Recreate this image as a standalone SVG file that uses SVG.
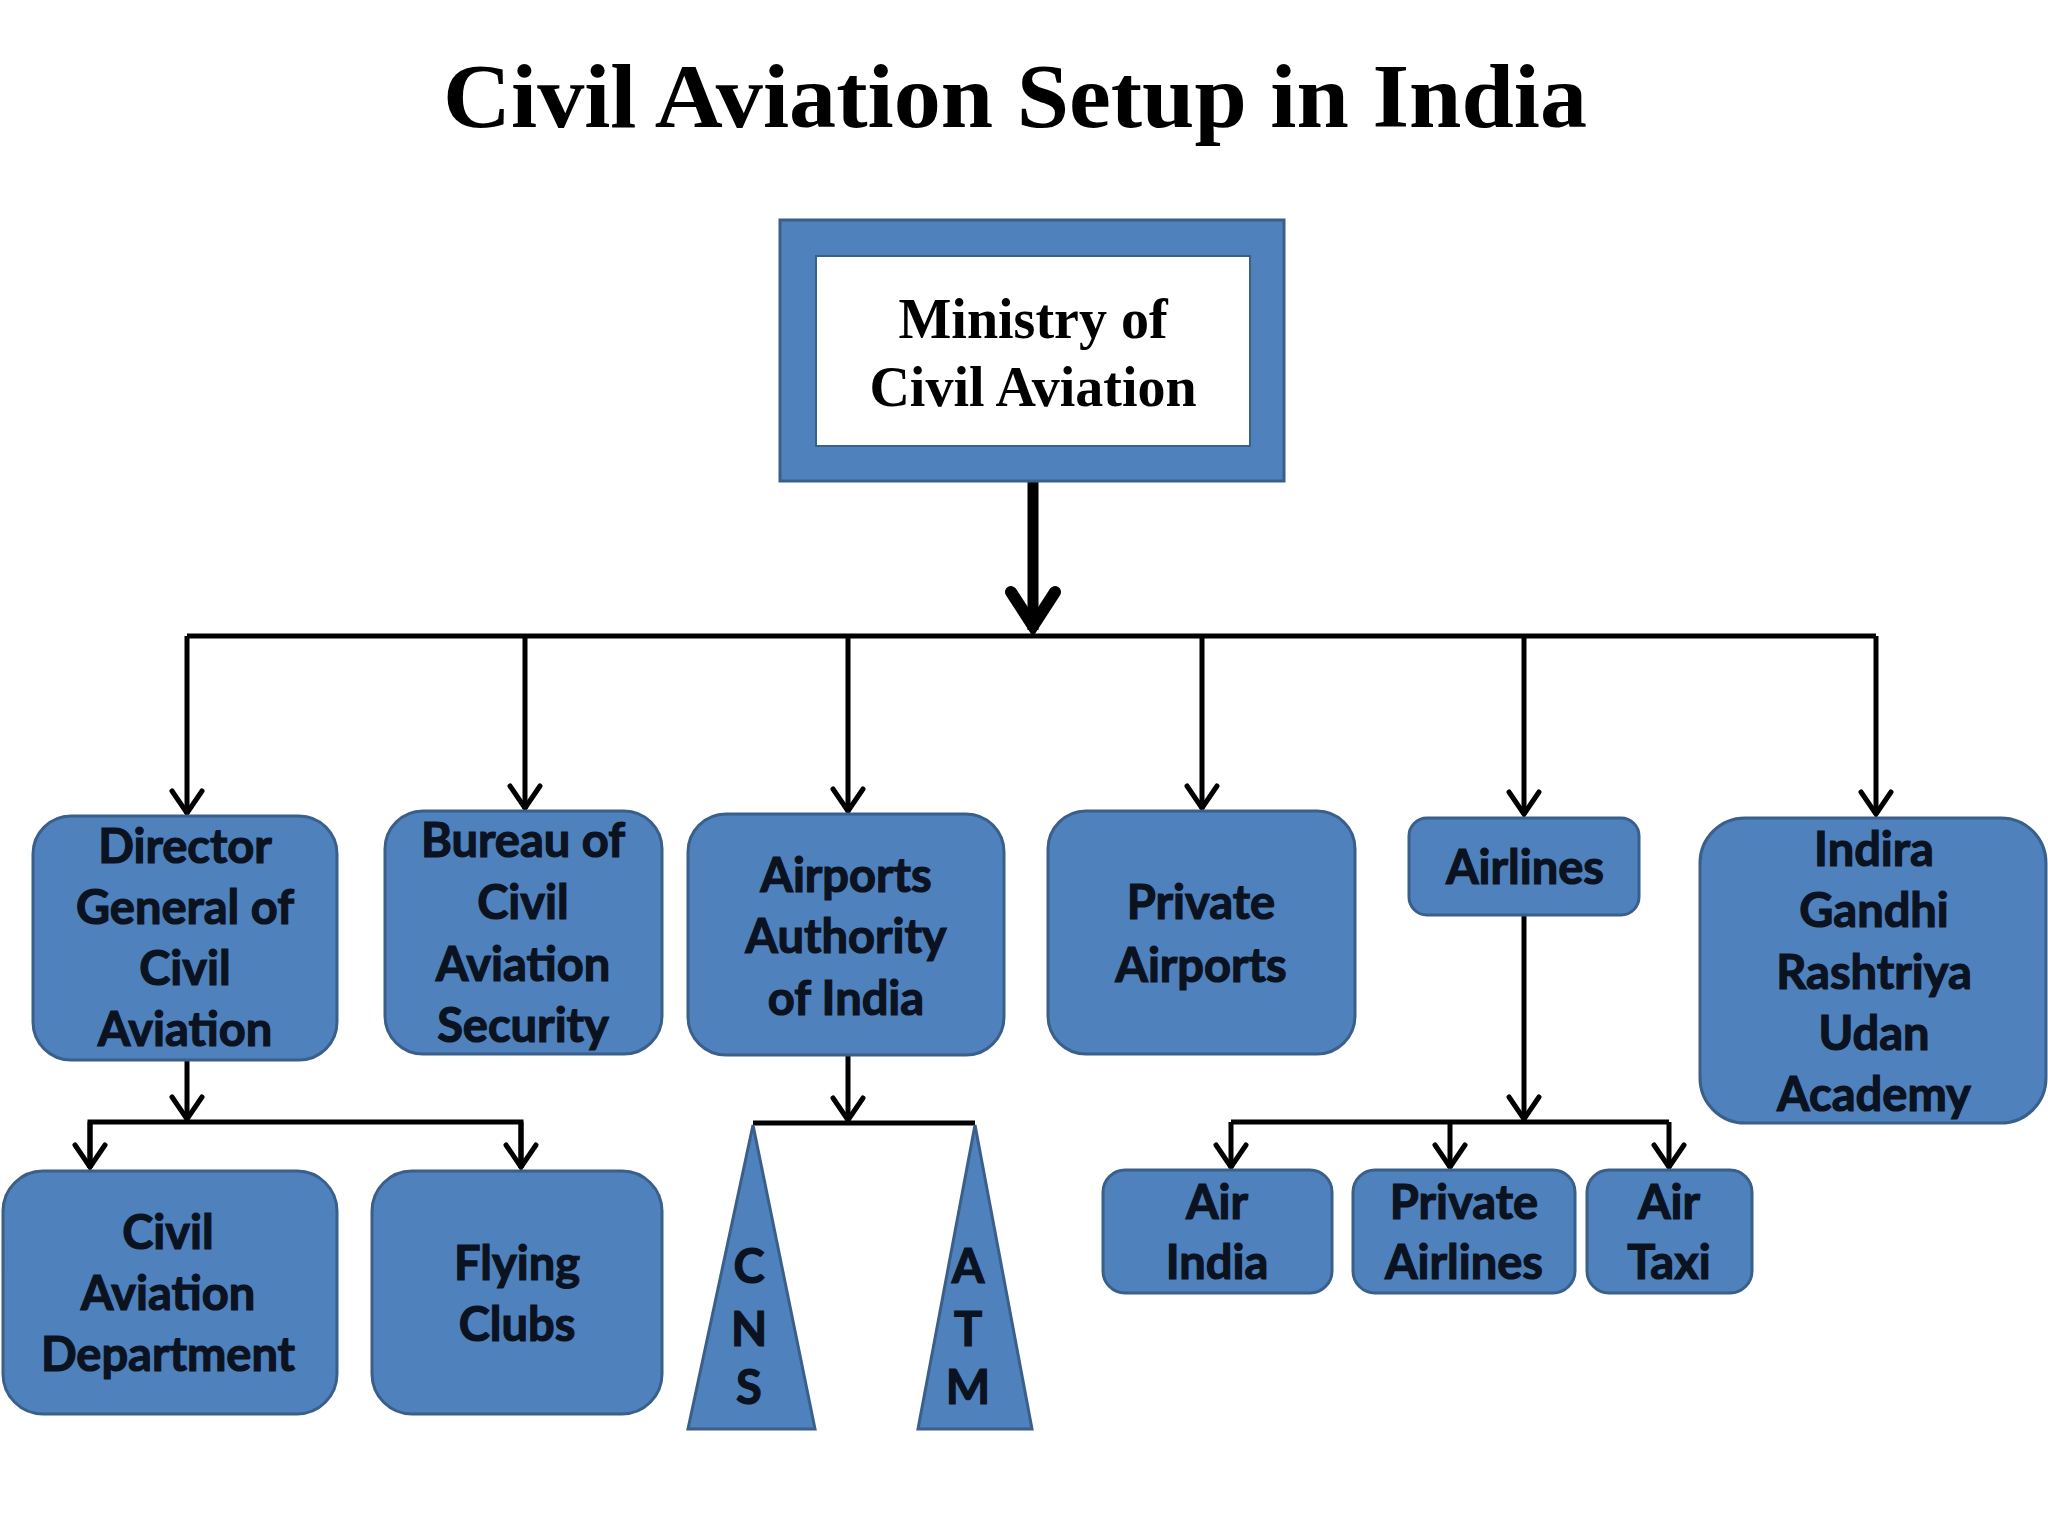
<svg xmlns="http://www.w3.org/2000/svg" width="2048" height="1536" viewBox="0 0 2048 1536">
<defs>
<style>
.box{fill:#4F81BD;stroke:#3A5F8B;stroke-width:3}
.lbl{font-family:Lato,"Liberation Sans",sans-serif;font-weight:bold;font-size:47px;fill:#0b1220;stroke:#0b1220;stroke-width:1.2;text-anchor:middle}
.ser{font-family:"Liberation Serif","Times New Roman",serif;font-weight:bold;fill:#000;text-anchor:middle}
.ln{fill:none;stroke:#000;stroke-width:5;stroke-linejoin:miter}
.arr{marker-end:url(#ah)}
</style>
<marker id="ah" markerUnits="userSpaceOnUse" markerWidth="60" markerHeight="60" refX="0" refY="0" orient="auto" overflow="visible">
<path d="M-23,-15 L-1,0 L-23,15" fill="none" stroke="#000" stroke-width="5" stroke-linecap="round" stroke-linejoin="miter"/>
</marker>
<marker id="ahb" markerUnits="userSpaceOnUse" markerWidth="100" markerHeight="100" refX="0" refY="0" orient="auto" overflow="visible">
<path d="M-38,-22 L-4,0 L-38,22" fill="none" stroke="#000" stroke-width="12" stroke-linecap="round" stroke-linejoin="miter"/>
</marker>
</defs>
<rect width="2048" height="1536" fill="#fff"/>
<text class="ser" x="1015" y="127" font-size="90" textLength="1144" lengthAdjust="spacingAndGlyphs">Civil Aviation Setup in India</text>

<g id="connectors">
<line x1="1033" y1="481" x2="1033" y2="630" stroke="#000" stroke-width="11" marker-end="url(#ahb)"/>
<polyline class="ln" points="187,636 1876,636"/>
<line class="ln arr" x1="187" y1="636" x2="187" y2="814"/>
<line class="ln arr" x1="525" y1="636" x2="525" y2="809"/>
<line class="ln arr" x1="848" y1="636" x2="848" y2="812"/>
<line class="ln arr" x1="1202" y1="636" x2="1202" y2="809"/>
<line class="ln arr" x1="1524" y1="636" x2="1524" y2="815"/>
<line class="ln arr" x1="1876" y1="636" x2="1876" y2="815"/>
<line class="ln arr" x1="187" y1="1060" x2="187" y2="1120"/>
<polyline class="ln" points="90,1168 90,1122 521,1122 521,1168"/>
<line class="ln arr" x1="90" y1="1122" x2="90" y2="1168"/>
<line class="ln arr" x1="521" y1="1122" x2="521" y2="1168"/>
<line class="ln arr" x1="848" y1="1055" x2="848" y2="1121"/>
<polyline class="ln" points="753,1123 975,1123"/>
<line class="ln arr" x1="1524" y1="916" x2="1524" y2="1120"/>
<polyline class="ln" points="1231,1122 1669,1122"/>
<line class="ln arr" x1="1231" y1="1122" x2="1231" y2="1168"/>
<line class="ln arr" x1="1450" y1="1122" x2="1450" y2="1168"/>
<line class="ln arr" x1="1669" y1="1122" x2="1669" y2="1168"/>
</g>

<g id="ministry">
<rect x="780" y="220" width="504" height="261" fill="#4F81BD" stroke="#3A5F8B" stroke-width="3"/>
<rect x="816" y="256" width="434" height="190" fill="#fff" stroke="#3A5F8B" stroke-width="2"/>
<text class="ser" x="1033" y="338" font-size="56">Ministry of</text>
<text class="ser" x="1033" y="406" font-size="56">Civil Aviation</text>
</g>

<g id="dgca">
<rect class="box" x="33" y="816" width="304" height="244" rx="38"/>
<text class="lbl" x="185" y="863">Director</text>
<text class="lbl" x="185" y="924">General of</text>
<text class="lbl" x="185" y="985">Civil</text>
<text class="lbl" x="185" y="1046">Aviation</text>
</g>
<g id="bcas">
<rect class="box" x="385" y="811" width="277" height="243" rx="38"/>
<text class="lbl" x="523" y="857">Bureau of</text>
<text class="lbl" x="523" y="919">Civil</text>
<text class="lbl" x="523" y="981">Aviation</text>
<text class="lbl" x="523" y="1042">Security</text>
</g>
<g id="aai">
<rect class="box" x="688" y="814" width="316" height="241" rx="38"/>
<text class="lbl" x="846" y="892">Airports</text>
<text class="lbl" x="846" y="953">Authority</text>
<text class="lbl" x="846" y="1015">of India</text>
</g>
<g id="private-airports">
<rect class="box" x="1048" y="811" width="307" height="243" rx="38"/>
<text class="lbl" x="1201" y="919">Private</text>
<text class="lbl" x="1201" y="982">Airports</text>
</g>
<g id="airlines">
<rect class="box" x="1409" y="818" width="230" height="97" rx="18"/>
<text class="lbl" x="1525" y="884">Airlines</text>
</g>
<g id="igrua">
<rect class="box" x="1700" y="818" width="346" height="305" rx="45"/>
<text class="lbl" x="1874" y="866">Indira</text>
<text class="lbl" x="1874" y="927">Gandhi</text>
<text class="lbl" x="1874" y="989">Rashtriya</text>
<text class="lbl" x="1874" y="1050">Udan</text>
<text class="lbl" x="1874" y="1111">Academy</text>
</g>
<g id="cad">
<rect class="box" x="3" y="1171" width="334" height="243" rx="40"/>
<text class="lbl" x="168" y="1249">Civil</text>
<text class="lbl" x="168" y="1310">Aviation</text>
<text class="lbl" x="168" y="1371">Department</text>
</g>
<g id="flying-clubs">
<rect class="box" x="372" y="1171" width="290" height="243" rx="40"/>
<text class="lbl" x="517" y="1280">Flying</text>
<text class="lbl" x="517" y="1341">Clubs</text>
</g>
<g id="cns">
<polygon class="box" points="753,1125 688,1429 815,1429"/>
<text class="lbl" x="749" y="1283" font-size="44">C</text>
<text class="lbl" x="749" y="1346" font-size="44">N</text>
<text class="lbl" x="749" y="1404" font-size="44">S</text>
</g>
<g id="atm">
<polygon class="box" points="975,1125 918,1429 1032,1429"/>
<text class="lbl" x="968" y="1283" font-size="44">A</text>
<text class="lbl" x="968" y="1346" font-size="44">T</text>
<text class="lbl" x="968" y="1404" font-size="44">M</text>
</g>
<g id="air-india">
<rect class="box" x="1103" y="1170" width="229" height="123" rx="22"/>
<text class="lbl" x="1217" y="1219">Air</text>
<text class="lbl" x="1217" y="1279">India</text>
</g>
<g id="private-airlines">
<rect class="box" x="1353" y="1170" width="222" height="123" rx="22"/>
<text class="lbl" x="1464" y="1219">Private</text>
<text class="lbl" x="1464" y="1279">Airlines</text>
</g>
<g id="air-taxi">
<rect class="box" x="1587" y="1170" width="165" height="123" rx="22"/>
<text class="lbl" x="1669" y="1219">Air</text>
<text class="lbl" x="1669" y="1279">Taxi</text>
</g>
</svg>
